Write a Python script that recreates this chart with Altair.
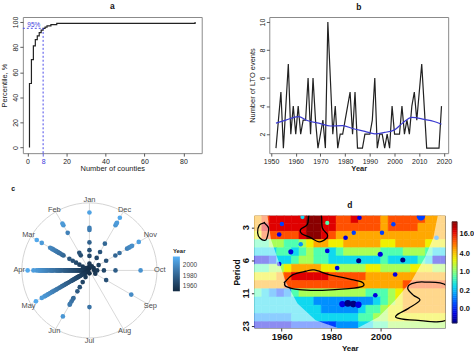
import altair as alt
import pandas as pd

FONT = "Liberation Sans"

# ---------------- Panel a : cumulative percentile of counties ----------------
a_counties = [1, 1, 2, 3, 4, 5, 6, 7, 8, 9, 10, 12, 15, 86]
a_percent = [0, 51, 70, 81, 86, 89, 91.5, 93.5, 95, 96, 97, 98, 99, 100]
a_cut_n = 8
a_cut_p = 95
a_xticks = [0, 8, 20, 40, 60, 80]
a_yticks = [0, 20, 40, 60, 80, 100]

# ---------------- Panel b : LTO events per year ----------------
b_years = list(range(1952, 2020))
b_counts = [1, 3, 5, 1, 4, 7, 2, 4, 2, 4,
            2, 3, 3, 6, 2, 6, 3, 1, 2, 3,
            1, 10, 6, 2, 4, 1, 2, 2, 3, 4,
            5, 2, 5, 1, 1, 1, 2, 2, 2, 3,
            6, 1, 2, 2, 1, 2, 1, 4, 2, 2,
            2, 4, 2, 3, 2, 4, 5, 3, 5, 7,
            4, 1, 1, 1, 1, 1, 1, 4]
b_smooth_years = [1952, 1956, 1961, 1965, 1970, 1974, 1979, 1983, 1988, 1992,
                  1996, 2000, 2003, 2007, 2012, 2016, 2019]
b_smooth_vals = [2.78, 3.0, 3.25, 2.95, 2.75, 2.58, 2.6, 2.4, 2.2, 2.02,
                 2.12, 2.3, 2.75, 3.2, 3.05, 2.9, 2.7]
b_xticks = [1950, 1960, 1970, 1980, 1990, 2000, 2010, 2020]
b_yticks = [2, 4, 6, 8, 10]

# ---------------- Panel c : month / year polar plot ----------------
months = ["Jan", "Feb", "Mar", "Apr", "May", "Jun", "Jul", "Aug", "Sep", "Oct", "Nov", "Dec"]
jan_years = [1952, 1954, 1957, 1965, 1971, 1979, 1992, 1994, 2010]
feb_years = [1953, 1968, 1971, 1995, 2004, 2006]
mar_years = [1952, 1955, 1958, 1962, 1966, 1970, 1974, 1981, 1982, 1983, 1985, 1986,
             1987, 1988, 1989, 1990, 1991, 1993, 1994, 1995, 1997, 2007, 2013]
apr_years = [1952, 1953, 1954, 1955, 1956, 1957, 1958, 1959, 1960, 1961, 1962, 1963,
             1964, 1965, 1966, 1967, 1968, 1969, 1970, 1971, 1972, 1973, 1974, 1975,
             1976, 1977, 1979, 1980, 1981, 1982, 1983, 1984, 1985, 1987, 1988, 1989,
             1990, 1991, 1993, 1994, 1995, 1996, 1997, 1998, 1999, 2000, 2001, 2002,
             2003, 2005, 2008, 2014]
may_years = [1952, 1953, 1954, 1955, 1956, 1957, 1958, 1959, 1960, 1961, 1962, 1963,
             1964, 1965, 1966, 1967, 1968, 1969, 1970, 1971, 1972, 1974, 1976, 1978,
             1980, 1982, 1983, 1985, 1987, 1989, 1990, 1992, 1994, 1995, 1997, 1999,
             2000, 2002, 2003, 2004, 2007, 2014]
jun_years = [1958, 1964, 1970, 1975, 1983, 1984, 1987, 1990, 1991, 2005]
jul_years = [1953, 1988]
aug_years = []
sep_years = [1957, 1970, 2000]
oct_years = [1955, 1958, 1965, 1977, 2003]
nov_years = [1955, 1961, 1970, 1981, 1986, 1995, 1997, 1998, 2000, 2001, 2009]
dec_years = [1955, 1965, 1972, 1982, 2004, 2006, 2007, 2013]
c_year_min, c_year_span = 1950, 70
c_legend_years = [1960, 1980, 2000]

# ---------------- Panel d : wavelet power spectrum ----------------
d_col_start, d_col_width = 1949, 3          # year bins of the grid
d_row_start, d_row_height = 1.125, 0.25     # log2(period) bins of the grid
d_power_rows = [
    "89aaaaabbaa99a999899999888",
    "8aaaaaabbaa999999899998888",
    "799999abba9888888888888888",
    "55665567887788888778888777",
    "44455456554566666555666544",
    "11244566554444444544445411",
    "55667888877666677666677766",
    "77789aaaaa9999988888888888",
    "88889999999999888888999999",
    "54323566666666655567888888",
    "44444444333333334567888888",
    "44444444433333455677888888",
    "33333444444444556677777777",
    "11111222222333445566666666",
]
# local minima ("holes") of the power: year, log2(period), level, size
d_min_year = [1960.1, 1959.0, 1968.4, 1978.4, 1985.8, 1989.1, 1991.4, 2000.5, 2005.1,
              2016.2, 2022.5, 1963.7, 1967.7, 1978.4, 1999.8, 1959.0, 1991.1, 2008.9,
              1982.4, 2005.8, 1997.8, 1984.5, 1986.7, 1988.9, 1991.0]
d_min_log2p = [1.40, 1.72, 1.19, 1.37, 1.82, 1.67, 1.21, 1.67, 1.41,
               1.17, 1.82, 2.25, 2.02, 2.22, 2.32, 2.62, 2.52, 2.50,
               2.74, 2.94, 3.57, 3.84, 3.82, 3.84, 3.86]
d_min_level = [2, 1, 4, 5, 1, 2, 1, 2, 2, 2, 3, 1, 3, 1, 1, 1, 0, 0, 1, 1, 1, 1, 0, 0, 1]
d_min_size = [20, 22, 18, 18, 22, 20, 22, 20, 20, 70, 22, 26, 20, 22, 26, 22, 26, 26,
              22, 22, 22, 40, 45, 45, 40]
d_coi_years = [1949, 1954.0, 1955.7, 1961.7, 1966.4, 1973.7, 1983.1, 1990.4, 1999.1,
               2005.8, 2012.5, 2017.8, 2021.2, 2023.4, 2026]
d_coi_log2p = [1.0, 1.0, 1.87, 3.17, 3.82, 4.33, 4.58, 4.58, 4.23,
               3.72, 3.12, 2.42, 1.82, 1.0, 1.0]
d_contours = {
    "c1": ([1953.0, 1954.7, 1954.3, 1953.4, 1951.3, 1950.3, 1951.0, 1953.0],
           [1.365, 1.516, 1.766, 1.896, 1.836, 1.666, 1.434, 1.365]),
    "c2": ([1971.45, 1970.4, 1967.7, 1968.1, 1971.7, 1975.1, 1978.1, 1978.4, 1976.4, 1975.7],
           [1.05, 1.413, 1.564, 1.696, 1.817, 1.946, 1.836, 1.715, 1.516, 1.05]),
    "c3": ([1961.3, 1964.4, 1969.7, 1973.1, 1979.1, 1987.1, 1992.4, 1992.7, 1987.1, 1976.4,
            1967.0, 1961.7, 1961.3],
           [3.17, 2.95, 2.84, 2.80, 2.94, 3.07, 3.17, 3.30, 3.37, 3.42, 3.40, 3.30, 3.17]),
    "c4": ([2027, 2017.8, 2012.5, 2010.9, 2013.2, 2015.8, 2011.2, 2006.5, 2006.9, 2013.8, 2027],
           [3.32, 3.17, 3.22, 3.37, 3.57, 3.72, 3.97, 4.17, 4.27, 4.33, 4.30]),
}
d_yticks = [1.5, 2.5, 3.5, 4.5]
d_ytick_labels = ["3", "6", "11", "23"]
d_xticks = [1960, 1980, 2000]
d_levels = list(range(12))
d_jet = ["#00007F", "#0000E0", "#0040FF", "#0090FF", "#10D8F0", "#50FFB0",
         "#A8FF58", "#F0F000", "#FFA800", "#FF5000", "#E00000", "#8A0000"]
# colour bar: tick positions (in colour-bar units 0..12) and their labels
d_bar_ticks = [1.76, 3.88, 6.12, 8.24, 10.6]
d_bar_labels = ["0.0", "0.2", "1.0", "4.0", "16.0"]


def r_axis(**kw):
    base = dict(domain=False, grid=False, ticks=True, tickSize=3, tickColor="#333",
                tickWidth=0.8, labelFont=FONT, labelFontSize=7, labelColor="#222",
                labelPadding=1, labelOverlap=False, labelFlush=False,
                titleFont=FONT, titleFontSize=7.5, titleColor="#222",
                titleFontWeight="normal")
    base.update(kw)
    return alt.Axis(**base)


R_VIEW = alt.ViewBackground(stroke="#8a8a8a", strokeWidth=1)

# ---------------- build panel a ----------------
df_a = pd.DataFrame({"n": a_counties, "p": a_percent})
xs_a = alt.Scale(domain=[-2.4, 89.4], nice=False, zero=False)
ys_a = alt.Scale(domain=[-4.5, 104], nice=False, zero=False)
ax_ax = r_axis(values=a_xticks, title="Number of counties", minExtent=10, maxExtent=10,
               titlePadding=1,
               labelColor={"expr": "datum.value == 8 ? '#3b3bdd' : '#222'"},
               tickColor={"expr": "datum.value == 8 ? '#3b3bdd' : '#333'"})
ax_ay = r_axis(values=a_yticks, title="Percentile, %", labelAngle=270, minExtent=13,
               maxExtent=13, titlePadding=1)
line_a = alt.Chart(df_a).mark_line(interpolate="step-after", color="#222",
                                   strokeWidth=1.2).encode(
    x=alt.X("n:Q", scale=xs_a, axis=ax_ax), y=alt.Y("p:Q", scale=ys_a, axis=ax_ay))
df_cut = pd.DataFrame({"n0": [-2.4, a_cut_n], "n1": [a_cut_n, a_cut_n],
                       "p0": [a_cut_p, -4.5], "p1": [a_cut_p, a_cut_p]})
cut_a = alt.Chart(df_cut).mark_rule(color="#4b4bea", strokeDash=[2, 2],
                                    strokeWidth=1).encode(
    x=alt.X("n0:Q", scale=xs_a, axis=ax_ax), x2="n1:Q",
    y=alt.Y("p0:Q", scale=ys_a, axis=ax_ay), y2="p1:Q")
txt_a = alt.Chart(pd.DataFrame({"n": [3.2], "p": [a_cut_p], "t": ["95%"]})).mark_text(
    font=FONT, fontSize=6.5, color="#3b3bdd", baseline="bottom", dy=-0.5).encode(
    x=alt.X("n:Q", scale=xs_a, axis=ax_ax), y=alt.Y("p:Q", scale=ys_a, axis=ax_ay),
    text="t:N")
chart_a = alt.layer(line_a, cut_a, txt_a).properties(
    width=180, height=137, view=R_VIEW,
    title=alt.TitleParams("a", font=FONT, fontSize=8.5, fontWeight="bold", offset=6,
                          color="#111"))

# ---------------- build panel b ----------------
df_b = pd.DataFrame({"year": b_years, "n": b_counts})
df_bs = pd.DataFrame({"year": b_smooth_years, "n": b_smooth_vals})
xs_b = alt.Scale(domain=[1949.3, 2021.7], nice=False, zero=False)
ys_b = alt.Scale(domain=[0.64, 10.36], nice=False, zero=False)
ax_bx = r_axis(values=b_xticks, format="d", title="Year", titleFontWeight="bold",
               minExtent=10, maxExtent=10, titlePadding=1)
ax_by = r_axis(values=b_yticks, title="Number of LTO events", labelAngle=270,
               minExtent=12, maxExtent=12, titlePadding=1)
line_b = alt.Chart(df_b).mark_line(color="#222", strokeWidth=1.2).encode(
    x=alt.X("year:Q", scale=xs_b, axis=ax_bx), y=alt.Y("n:Q", scale=ys_b, axis=ax_by))
smooth_b = alt.Chart(df_bs).mark_line(color="#3a3ad0", strokeWidth=1.2,
                                      interpolate="monotone").encode(
    x=alt.X("year:Q", scale=xs_b, axis=ax_bx), y=alt.Y("n:Q", scale=ys_b, axis=ax_by))
chart_b = alt.layer(line_b, smooth_b).properties(
    width=180, height=137, view=R_VIEW,
    title=alt.TitleParams("b", font=FONT, fontSize=8.5, fontWeight="bold", offset=6,
                          color="#111"))

# ---------------- build panel c ----------------
c_lists = [jan_years, feb_years, mar_years, apr_years, may_years, jun_years,
           jul_years, aug_years, sep_years, oct_years, nov_years, dec_years]
rows = []
for i, (m, ys) in enumerate(zip(months, c_lists)):
    for y in ys:
        rows.append({"mi": i, "month": m, "year": y})
df_c = pd.DataFrame(rows)
df_m = pd.DataFrame({"mi": list(range(12)), "month": months, "zero": [0] * 12})
xs_c = alt.Scale(domain=[-0.9853, 1.2206], nice=False, zero=False)
ys_c = alt.Scale(domain=[-0.853, 0.809], nice=False, zero=False)
ANG = "PI/2 + datum.mi*PI/6"

ring = alt.Chart(pd.DataFrame({"x": [0], "y": [0]})).mark_point(
    shape="circle", size=18496, filled=False, stroke="#d4d4d4", strokeWidth=1,
    opacity=1).encode(x=alt.X("x:Q", scale=xs_c, axis=None),
                      y=alt.Y("y:Q", scale=ys_c, axis=None))
spokes = alt.Chart(df_m).transform_calculate(
    ex=f"cos({ANG})", ey=f"sin({ANG})").mark_rule(color="#d9d9d9", strokeWidth=1).encode(
    x=alt.X("zero:Q", scale=xs_c, axis=None), y=alt.Y("zero:Q", scale=ys_c, axis=None),
    x2="ex:Q", y2="ey:Q")
labels_c = alt.Chart(df_m).transform_calculate(
    lx=f"1.04*cos({ANG})", ly=f"1.04*sin({ANG})").mark_text(
    font=FONT, fontSize=7.5, color="#4d4d4d").encode(
    x=alt.X("lx:Q", scale=xs_c, axis=None), y=alt.Y("ly:Q", scale=ys_c, axis=None),
    text="month:N")
pts_c = alt.Chart(df_c).transform_calculate(
    r=f"(datum.year - {c_year_min})/{c_year_span}").transform_calculate(
    px=f"datum.r*cos({ANG})", py=f"datum.r*sin({ANG})").mark_circle(
    size=22, opacity=1).encode(
    x=alt.X("px:Q", scale=xs_c, axis=None), y=alt.Y("py:Q", scale=ys_c, axis=None),
    color=alt.Color("year:Q", scale=alt.Scale(domain=[1950, 2017],
                                              range=["#132B43", "#56B1F7"]),
                    legend=alt.Legend(title="Year", orient="none", legendX=151,
                                      legendY=32, values=c_legend_years, type="gradient",
                                      gradientLength=35, gradientThickness=7,
                                      titleFont=FONT, titleFontSize=6,
                                      titleFontWeight="bold", titleColor="#222",
                                      labelFont=FONT, labelFontSize=6.5,
                                      labelColor="#444", format="d", labelOffset=3,
                                      titlePadding=3)))
chart_c = alt.layer(ring, spokes, pts_c, labels_c).properties(
    width=150, height=113, view=alt.ViewBackground(strokeWidth=0),
    title=alt.TitleParams("c", font=FONT, fontSize=7, fontWeight="bold", anchor="start",
                          offset=4, dx=-2, color="#111"))

# ---------------- build panel d ----------------
cells = []
for r, s in enumerate(d_power_rows):
    for k, ch in enumerate(s):
        x0 = d_col_start + k * d_col_width
        l0 = d_row_start + r * d_row_height
        cells.append({"x0": x0, "x1": x0 + d_col_width, "l0": l0,
                      "l1": l0 + d_row_height, "level": int(ch, 16)})
df_d = pd.DataFrame(cells)
df_min = pd.DataFrame({"year": d_min_year, "l": d_min_log2p, "level": d_min_level,
                       "sz": d_min_size})
xs_d = alt.Scale(domain=[1949, 2026], nice=False, zero=False)
ys_d = alt.Scale(domain=[1.15, 4.57], nice=False, zero=False, reverse=True)
label_expr = " : ".join(
    f"datum.value == {v} ? '{t}'" for v, t in zip(d_yticks[:-1], d_ytick_labels[:-1])
) + f" : '{d_ytick_labels[-1]}'"
jet_scale = alt.Scale(domain=d_levels, range=d_jet, interpolate="rgb")
ax_dx = alt.Axis(
    values=d_xticks, format="d", title="Year", domain=False, grid=False, tickSize=3,
    tickColor="#333", labelFont=FONT, labelFontSize=9.5, labelFontWeight="bold",
    labelColor="#111", labelPadding=1, labelOverlap=False, labelFlush=False,
    titleFont=FONT, titleFontSize=8, titleFontWeight="bold", titleColor="#111",
    titlePadding=3, minExtent=14, maxExtent=14)
ax_dy = alt.Axis(
    values=d_yticks, labelExpr=label_expr, title="Period", labelAngle=270,
    domain=False, grid=False, tickSize=3, tickColor="#333", labelFont=FONT,
    labelFontSize=9.5, labelFontWeight="bold", labelColor="#111", labelPadding=1,
    labelOverlap=False, labelFlush=False,
    titleFont=FONT, titleFontSize=8.5, titleFontWeight="bold", titleColor="#111",
    titlePadding=1, minExtent=12, maxExtent=12)
heat_color = alt.Color("level:Q", scale=jet_scale, legend=None)
heat = alt.Chart(df_d).mark_rect(clip=True, strokeWidth=0.6).encode(
    x=alt.X("x0:Q", scale=xs_d, axis=ax_dx), x2="x1:Q",
    y=alt.Y("l0:Q", scale=ys_d, axis=ax_dy), y2="l1:Q",
    color=heat_color,
    stroke=alt.Stroke("level:Q", scale=jet_scale, legend=None))
holes = alt.Chart(df_min).mark_circle(opacity=1, clip=True).encode(
    x=alt.X("year:Q", scale=xs_d, axis=ax_dx), y=alt.Y("l:Q", scale=ys_d, axis=ax_dy),
    color=heat_color, size=alt.Size("sz:Q", scale=None, legend=None))
df_coi = pd.DataFrame({"year": d_coi_years, "l": d_coi_log2p,
                       "bottom": [4.7] * len(d_coi_years)})
coi = alt.Chart(df_coi).mark_area(color="white", opacity=0.55, clip=True).encode(
    x=alt.X("year:Q", scale=xs_d, axis=ax_dx), y=alt.Y("l:Q", scale=ys_d, axis=ax_dy),
    y2="bottom:Q")
crow = []
for cid, (xs, ls) in d_contours.items():
    for o, (xv, lv) in enumerate(zip(xs, ls)):
        crow.append({"cid": cid, "o": o, "year": xv, "l": lv})
df_cont = pd.DataFrame(crow)
cont = alt.Chart(df_cont).mark_line(color="black", strokeWidth=1.3, clip=True,
                                    interpolate="cardinal-closed").encode(
    x=alt.X("year:Q", scale=xs_d, axis=ax_dx), y=alt.Y("l:Q", scale=ys_d, axis=ax_dy),
    detail="cid:N", order="o:Q")
chart_d = alt.layer(heat, holes, coi, cont).properties(
    width=192, height=113, view=alt.ViewBackground(stroke="#777", strokeWidth=0.8),
    title=alt.TitleParams("d", font=FONT, fontSize=8.5, fontWeight="bold", offset=6,
                          color="#111"))

# colour bar of panel d (drawn through the same jet colour scale)
bar_bins = [q / 4 for q in range(48)]
df_bar = pd.DataFrame({"b0": bar_bins, "b1": [b + 0.25 for b in bar_bins],
                       "level": [(b + 0.125) * 11 / 12 for b in bar_bins],
                       "x0": [0] * 48, "x1": [1] * 48})
ys_bar = alt.Scale(domain=[-0.588, 12.706], nice=False, zero=False)
xs_bar = alt.Scale(domain=[0, 1], nice=False, zero=False)
bar_expr = " : ".join(
    f"datum.value < {v + 0.5} ? '{t}'" for v, t in zip(d_bar_ticks[:-1], d_bar_labels[:-1])
) + f" : '{d_bar_labels[-1]}'"
ax_bar = alt.Axis(orient="right", values=d_bar_ticks, labelExpr=bar_expr, title=None,
                  domain=False, grid=False, ticks=False, labelFont=FONT,
                  labelFontSize=7.5, labelFontWeight="bold", labelColor="#111",
                  labelPadding=2, labelOverlap=False, labelFlush=False)
bar = alt.Chart(df_bar).mark_rect(strokeWidth=0.5).encode(
    x=alt.X("x0:Q", scale=xs_bar, axis=None), x2="x1:Q",
    y=alt.Y("b0:Q", scale=ys_bar, axis=ax_bar), y2="b1:Q",
    color=alt.Color("level:Q", scale=jet_scale, legend=None),
    stroke=alt.Stroke("level:Q", scale=jet_scale, legend=None))
bar_frame = alt.Chart(pd.DataFrame({"x0": [0], "x1": [1], "b0": [0], "b1": [12]})).mark_rect(
    fill="transparent", stroke="#333", strokeWidth=0.6).encode(
    x=alt.X("x0:Q", scale=xs_bar, axis=None), x2="x1:Q",
    y=alt.Y("b0:Q", scale=ys_bar, axis=ax_bar), y2="b1:Q")
chart_bar = alt.layer(bar, bar_frame).properties(
    width=5, height=113, view=alt.ViewBackground(strokeWidth=0))

d_group = alt.hconcat(chart_d, chart_bar, spacing=5)
row1 = alt.hconcat(chart_a, chart_b, spacing=45)
row2 = alt.hconcat(chart_c, d_group, spacing=34).resolve_scale(color="independent",
                                                                 stroke="independent")
chart = alt.vconcat(row1, row2, spacing=13).resolve_scale(
    color="independent", stroke="independent").properties(
    padding=0, background="white").configure_view(strokeWidth=0).configure_axis(
    labelOverlap=False, labelFlush=False)

chart.save("out.html", embed_options={"renderer": "svg", "actions": False})
